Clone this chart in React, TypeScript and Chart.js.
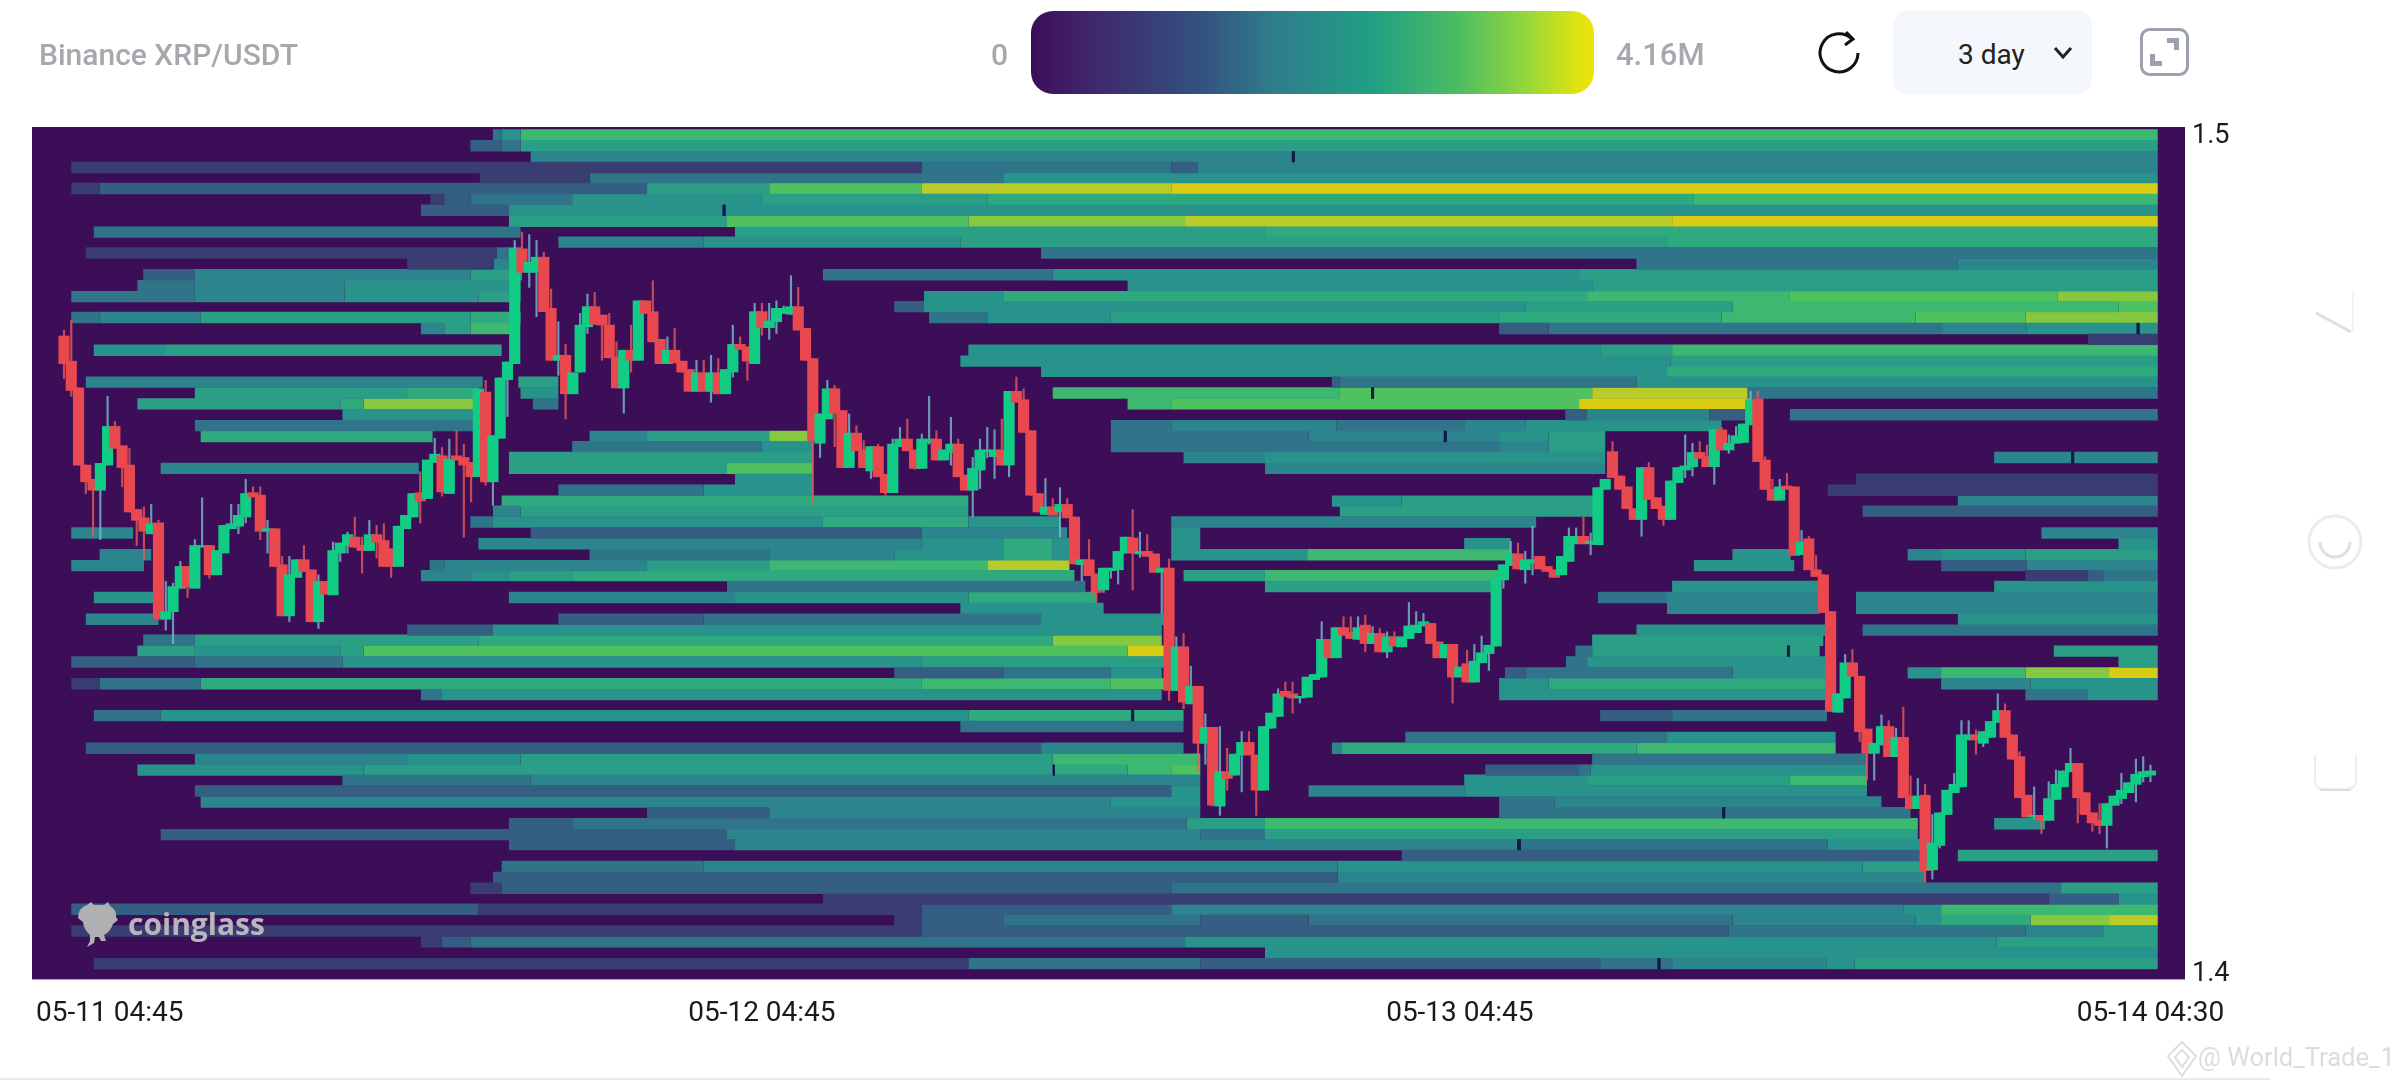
import { useEffect, useRef } from 'react'
import { Chart, registerables } from 'chart.js'

Chart.register(...registerables)

// x axis runs in 15 minute candle indexes, y axis in price
const xTickPositions = [6.3, 96, 192, 287]
const xTickLabels = ['05-11 04:45', '05-12 04:45', '05-13 04:45', '05-14 04:30']
const yTickValues = [1.4, 1.5]

const opens = [
  1.4759, 1.4729, 1.4697, 1.4605, 1.4588, 1.4575, 1.4605, 1.4651, 1.4628, 1.4605,
  1.4552, 1.4542, 1.4523, 1.4536, 1.4421, 1.443, 1.4458, 1.4484, 1.4458, 1.4507,
  1.4509, 1.4474, 1.45, 1.4529, 1.4532, 1.4543, 1.4572, 1.4569, 1.4526, 1.4529,
  1.4486, 1.4425, 1.4471, 1.4492, 1.448, 1.4418, 1.4466, 1.445, 1.45, 1.4509,
  1.4519, 1.4509, 1.4503, 1.4522, 1.4515, 1.4505, 1.4484, 1.4529, 1.4543, 1.4572,
  1.4565, 1.4608, 1.4616, 1.4571, 1.4616, 1.4614, 1.4608, 1.4591, 1.4692, 1.4585,
  1.4637, 1.4707, 1.4726, 1.4863, 1.4835, 1.4835, 1.4853, 1.4792, 1.473, 1.4736,
  1.469, 1.4716, 1.477, 1.4794, 1.4784, 1.4772, 1.4734, 1.4697, 1.4742, 1.473,
  1.4801, 1.4788, 1.4755, 1.4726, 1.4742, 1.4729, 1.4719, 1.4693, 1.4715, 1.4693,
  1.4715, 1.469, 1.4716, 1.4749, 1.4746, 1.4726, 1.4788, 1.4769, 1.4776, 1.4786,
  1.4785, 1.4794, 1.4768, 1.4732, 1.4631, 1.466, 1.4696, 1.467, 1.4602, 1.4643,
  1.4623, 1.4598, 1.4627, 1.4594, 1.4572, 1.4627, 1.4636, 1.4623, 1.4601, 1.4632,
  1.4636, 1.4611, 1.462, 1.463, 1.4593, 1.4575, 1.4599, 1.4621, 1.4615, 1.4623,
  1.4605, 1.4693, 1.4683, 1.4646, 1.4571, 1.4546, 1.4555, 1.4549, 1.4558, 1.4543,
  1.4486, 1.4492, 1.4475, 1.4456, 1.4479, 1.448, 1.45, 1.4518, 1.4499, 1.4502,
  1.4499, 1.4477, 1.4482, 1.4336, 1.4388, 1.432, 1.4341, 1.4273, 1.4292, 1.4198,
  1.4239, 1.4235, 1.4259, 1.4274, 1.4259, 1.4217, 1.4291, 1.4305, 1.4335, 1.4332,
  1.4327, 1.4328, 1.4349, 1.4352, 1.4397, 1.4375, 1.4411, 1.4405, 1.4397, 1.4414,
  1.4392, 1.4404, 1.4382, 1.44, 1.4388, 1.4398, 1.4405, 1.4413, 1.4416, 1.4394,
  1.4375, 1.4391, 1.4352, 1.4368, 1.4346, 1.4369, 1.438, 1.4389, 1.4468, 1.4485,
  1.4499, 1.448, 1.4488, 1.4496, 1.4484, 1.448, 1.4474, 1.449, 1.4511, 1.452,
  1.4511, 1.451, 1.4576, 1.4621, 1.4592, 1.4579, 1.4553, 1.454, 1.4602, 1.4566,
  1.4556, 1.454, 1.4584, 1.4599, 1.4603, 1.462, 1.4615, 1.4603, 1.4647, 1.4623,
  1.4631, 1.4632, 1.4653, 1.4684, 1.4611, 1.4576, 1.4563, 1.458, 1.4579, 1.4498,
  1.4517, 1.448, 1.4474, 1.443, 1.431, 1.4327, 1.4369, 1.4353, 1.429, 1.4261,
  1.4271, 1.4293, 1.4257, 1.428, 1.421, 1.4195, 1.4211, 1.4122, 1.4151, 1.4188,
  1.4214, 1.4221, 1.4277, 1.4283, 1.4273, 1.428, 1.4298, 1.4312, 1.4283, 1.4257,
  1.4211, 1.4185, 1.4187, 1.4181, 1.4206, 1.4221, 1.4239, 1.4249, 1.4214, 1.419,
  1.4181, 1.4175, 1.4199, 1.4207, 1.4214, 1.4224, 1.4233, 1.4235,
]
const highs = [
  1.4766, 1.4778, 1.4697, 1.4605, 1.4588, 1.4607, 1.4687, 1.4657, 1.4628, 1.4625,
  1.4552, 1.4555, 1.4558, 1.4539, 1.4466, 1.4464, 1.449, 1.4484, 1.4516, 1.4566,
  1.4509, 1.4503, 1.4533, 1.4558, 1.4558, 1.4588, 1.4579, 1.4579, 1.4539, 1.4529,
  1.4496, 1.4496, 1.4492, 1.4509, 1.448, 1.4474, 1.4466, 1.4513, 1.4512, 1.4525,
  1.4543, 1.4519, 1.4539, 1.4533, 1.4535, 1.4505, 1.4532, 1.4545, 1.4571, 1.4597,
  1.4611, 1.4637, 1.4626, 1.4636, 1.4646, 1.463, 1.4608, 1.4696, 1.4706, 1.464,
  1.4709, 1.4728, 1.4873, 1.4883, 1.488, 1.4873, 1.4859, 1.4815, 1.4776, 1.4749,
  1.4715, 1.4786, 1.4809, 1.4811, 1.4784, 1.4786, 1.4752, 1.4742, 1.4772, 1.4801,
  1.4801, 1.4825, 1.4755, 1.4758, 1.4768, 1.4729, 1.4719, 1.473, 1.473, 1.4736,
  1.4732, 1.4719, 1.4772, 1.4758, 1.4746, 1.4798, 1.4798, 1.4798, 1.4801, 1.4795,
  1.4831, 1.4817, 1.4768, 1.4732, 1.4666, 1.4706, 1.47, 1.467, 1.4666, 1.4652,
  1.4634, 1.4627, 1.463, 1.4594, 1.4636, 1.465, 1.466, 1.4623, 1.4642, 1.4687,
  1.4646, 1.4623, 1.4662, 1.4636, 1.4593, 1.4614, 1.4636, 1.465, 1.4647, 1.466,
  1.4693, 1.471, 1.4696, 1.4646, 1.4571, 1.4589, 1.4565, 1.4578, 1.4565, 1.4543,
  1.4492, 1.4516, 1.4475, 1.4482, 1.4482, 1.4502, 1.4519, 1.4552, 1.4525, 1.4522,
  1.4499, 1.4482, 1.4493, 1.44, 1.4404, 1.4365, 1.4341, 1.4308, 1.4292, 1.4293,
  1.4267, 1.426, 1.4287, 1.4287, 1.4259, 1.4293, 1.4309, 1.4338, 1.4346, 1.4346,
  1.4329, 1.4352, 1.4355, 1.4418, 1.4397, 1.4411, 1.4424, 1.4424, 1.4424, 1.4426,
  1.4412, 1.441, 1.4406, 1.4406, 1.44, 1.4441, 1.443, 1.4428, 1.4416, 1.4394,
  1.4391, 1.4391, 1.4364, 1.4384, 1.4391, 1.4401, 1.439, 1.447, 1.4486, 1.4514,
  1.4512, 1.4502, 1.4532, 1.4496, 1.4484, 1.448, 1.4496, 1.453, 1.453, 1.4543,
  1.4524, 1.4578, 1.4588, 1.4633, 1.4592, 1.4579, 1.4553, 1.4602, 1.4608, 1.4566,
  1.4556, 1.4586, 1.4602, 1.4641, 1.4631, 1.4633, 1.4629, 1.4647, 1.465, 1.4641,
  1.4651, 1.4654, 1.4693, 1.4693, 1.4615, 1.4588, 1.4588, 1.4595, 1.4579, 1.4527,
  1.452, 1.4497, 1.4474, 1.443, 1.4332, 1.4379, 1.4385, 1.4353, 1.429, 1.4273,
  1.4307, 1.43, 1.4291, 1.4316, 1.4234, 1.4231, 1.4224, 1.4188, 1.419, 1.4217,
  1.4237, 1.43, 1.43, 1.4289, 1.4287, 1.4299, 1.4332, 1.432, 1.4283, 1.4263,
  1.4211, 1.4221, 1.4187, 1.4227, 1.4241, 1.424, 1.4267, 1.4249, 1.4214, 1.419,
  1.4201, 1.4201, 1.421, 1.4237, 1.4226, 1.4254, 1.4257, 1.4247,
]
const lows = [
  1.4708, 1.4687, 1.4605, 1.4571, 1.452, 1.4516, 1.4605, 1.4625, 1.4579, 1.4549,
  1.4509, 1.4492, 1.4523, 1.4421, 1.4408, 1.4392, 1.4458, 1.4447, 1.4458, 1.4507,
  1.447, 1.4474, 1.45, 1.4529, 1.4523, 1.4536, 1.4567, 1.4516, 1.45, 1.4484,
  1.4425, 1.4418, 1.4471, 1.4478, 1.4418, 1.441, 1.4451, 1.445, 1.449, 1.45,
  1.4507, 1.4476, 1.4503, 1.4494, 1.4484, 1.4471, 1.4484, 1.4529, 1.4543, 1.4536,
  1.4565, 1.4608, 1.4568, 1.4571, 1.4611, 1.4519, 1.4561, 1.4591, 1.4581, 1.4557,
  1.4637, 1.4663, 1.4726, 1.4835, 1.4817, 1.4782, 1.4788, 1.473, 1.4712, 1.466,
  1.469, 1.4716, 1.4762, 1.4773, 1.473, 1.4733, 1.4697, 1.4667, 1.4716, 1.473,
  1.4786, 1.4752, 1.4726, 1.4726, 1.4727, 1.4716, 1.4693, 1.4693, 1.4693, 1.468,
  1.469, 1.469, 1.471, 1.4743, 1.4706, 1.4726, 1.476, 1.4755, 1.4762, 1.4786,
  1.4785, 1.4766, 1.473, 1.4559, 1.4614, 1.466, 1.4627, 1.4602, 1.4602, 1.4622,
  1.4602, 1.4589, 1.4591, 1.4569, 1.4572, 1.4627, 1.4622, 1.46, 1.4601, 1.463,
  1.4611, 1.4611, 1.4605, 1.4591, 1.4575, 1.4543, 1.4577, 1.4614, 1.4589, 1.4605,
  1.4591, 1.468, 1.4644, 1.4569, 1.4549, 1.4546, 1.4545, 1.4519, 1.4542, 1.4487,
  1.4467, 1.4473, 1.4441, 1.4453, 1.447, 1.4463, 1.45, 1.4456, 1.4495, 1.4496,
  1.4477, 1.4428, 1.4324, 1.4336, 1.4314, 1.432, 1.424, 1.4248, 1.4198, 1.4187,
  1.4217, 1.4235, 1.4215, 1.4259, 1.4187, 1.4217, 1.4291, 1.4305, 1.4329, 1.4309,
  1.4321, 1.4328, 1.4349, 1.4352, 1.4375, 1.4375, 1.4402, 1.4398, 1.4397, 1.4382,
  1.4392, 1.4382, 1.4375, 1.4389, 1.4388, 1.4398, 1.4405, 1.4413, 1.4392, 1.4375,
  1.4375, 1.4321, 1.4352, 1.4346, 1.4346, 1.4369, 1.436, 1.4389, 1.4458, 1.4485,
  1.4481, 1.4464, 1.4474, 1.4481, 1.4478, 1.4471, 1.4474, 1.449, 1.4511, 1.4511,
  1.4498, 1.451, 1.4576, 1.459, 1.4576, 1.4553, 1.454, 1.452, 1.4564, 1.4553,
  1.4533, 1.454, 1.4584, 1.459, 1.4592, 1.4613, 1.4603, 1.4582, 1.4623, 1.4619,
  1.4631, 1.4632, 1.4653, 1.4609, 1.4576, 1.4563, 1.4563, 1.4576, 1.4497, 1.4498,
  1.448, 1.4472, 1.4429, 1.4311, 1.431, 1.4327, 1.4353, 1.4275, 1.4229, 1.4229,
  1.4271, 1.4257, 1.4257, 1.4208, 1.4195, 1.4195, 1.4107, 1.4111, 1.4148, 1.4188,
  1.4214, 1.4221, 1.4277, 1.426, 1.4269, 1.428, 1.4298, 1.428, 1.4254, 1.4208,
  1.4185, 1.4183, 1.4165, 1.4181, 1.4206, 1.4221, 1.4239, 1.4178, 1.4188, 1.4168,
  1.4165, 1.4148, 1.4199, 1.4201, 1.4214, 1.4203, 1.4227, 1.4227,
]
const closes = [
  1.4726, 1.4694, 1.4605, 1.4585, 1.4575, 1.4607, 1.4651, 1.4625, 1.4602, 1.4549,
  1.4539, 1.4526, 1.4535, 1.4421, 1.443, 1.446, 1.4484, 1.446, 1.4509, 1.4509,
  1.4474, 1.4503, 1.4533, 1.4535, 1.4545, 1.4571, 1.4567, 1.4526, 1.4529, 1.4484,
  1.4425, 1.4474, 1.4492, 1.4478, 1.4418, 1.4466, 1.4451, 1.4503, 1.4512, 1.4522,
  1.4507, 1.4503, 1.4522, 1.4513, 1.4484, 1.4484, 1.4532, 1.4545, 1.4571, 1.4562,
  1.4611, 1.4618, 1.4573, 1.4612, 1.4611, 1.4605, 1.4591, 1.4696, 1.4585, 1.464,
  1.4709, 1.4728, 1.4863, 1.4835, 1.4847, 1.4853, 1.4788, 1.473, 1.4736, 1.469,
  1.4715, 1.4772, 1.4794, 1.4773, 1.4772, 1.4733, 1.4697, 1.4742, 1.473, 1.4801,
  1.4786, 1.4752, 1.4726, 1.4742, 1.4727, 1.4716, 1.4693, 1.4715, 1.4693, 1.4715,
  1.469, 1.4719, 1.4749, 1.4743, 1.4729, 1.4788, 1.4769, 1.4777, 1.4792, 1.4792,
  1.4794, 1.4766, 1.473, 1.4634, 1.4666, 1.4696, 1.4667, 1.4602, 1.4643, 1.4622,
  1.4602, 1.4627, 1.4591, 1.4572, 1.463, 1.4636, 1.4622, 1.4601, 1.4636, 1.4636,
  1.4611, 1.4623, 1.463, 1.4591, 1.4575, 1.4601, 1.4623, 1.4623, 1.4623, 1.4605,
  1.4693, 1.468, 1.4644, 1.4569, 1.4549, 1.4555, 1.4545, 1.4558, 1.4542, 1.4487,
  1.4492, 1.4473, 1.4453, 1.4482, 1.4482, 1.4502, 1.4519, 1.45, 1.4502, 1.4496,
  1.4477, 1.4482, 1.4336, 1.4388, 1.4322, 1.4341, 1.4273, 1.4292, 1.4199, 1.4239,
  1.4231, 1.426, 1.4274, 1.4259, 1.4217, 1.4293, 1.4309, 1.4332, 1.4329, 1.4327,
  1.4329, 1.4352, 1.4355, 1.4397, 1.4375, 1.4411, 1.4402, 1.4398, 1.4411, 1.4392,
  1.4404, 1.4382, 1.44, 1.4389, 1.44, 1.4413, 1.4414, 1.4418, 1.4392, 1.4375,
  1.4391, 1.4352, 1.4364, 1.4346, 1.4371, 1.4381, 1.439, 1.447, 1.4486, 1.4499,
  1.4481, 1.4492, 1.4492, 1.4481, 1.4478, 1.4471, 1.4496, 1.452, 1.452, 1.4511,
  1.4514, 1.4578, 1.4588, 1.459, 1.4576, 1.4553, 1.454, 1.4602, 1.4564, 1.4553,
  1.454, 1.4586, 1.4602, 1.4604, 1.462, 1.4613, 1.4603, 1.4647, 1.4623, 1.4631,
  1.464, 1.4654, 1.4683, 1.4609, 1.4576, 1.4563, 1.4579, 1.4576, 1.4497, 1.4513,
  1.448, 1.4472, 1.4429, 1.4311, 1.4332, 1.4369, 1.4353, 1.4287, 1.4261, 1.4273,
  1.4293, 1.4257, 1.428, 1.4208, 1.4195, 1.421, 1.4121, 1.4154, 1.419, 1.4217,
  1.4224, 1.4283, 1.4283, 1.4277, 1.4287, 1.4299, 1.4312, 1.428, 1.4254, 1.4208,
  1.4185, 1.4187, 1.4181, 1.4207, 1.4224, 1.424, 1.4249, 1.4208, 1.4188, 1.4178,
  1.4175, 1.4201, 1.421, 1.4217, 1.4226, 1.4236, 1.4239, 1.424,
]

// one price level per heatmap row, top to bottom
const rowPrices = [
  1.4999, 1.4986, 1.4973, 1.496, 1.4948, 1.4935, 1.4922, 1.4909, 1.4896, 1.4883,
  1.4871, 1.4858, 1.4845, 1.4832, 1.4819, 1.4806, 1.4794, 1.4781, 1.4768, 1.4755,
  1.4742, 1.4729, 1.4717, 1.4704, 1.4691, 1.4678, 1.4665, 1.4652, 1.4639, 1.4627,
  1.4614, 1.4601, 1.4588, 1.4575, 1.4562, 1.455, 1.4537, 1.4524, 1.4511, 1.4498,
  1.4485, 1.4473, 1.446, 1.4447, 1.4434, 1.4421, 1.4408, 1.4396, 1.4383, 1.437,
  1.4357, 1.4344, 1.4331, 1.4319, 1.4306, 1.4293, 1.428, 1.4267, 1.4254, 1.4241,
  1.4229, 1.4216, 1.4203, 1.419, 1.4177, 1.4164, 1.4152, 1.4139, 1.4126, 1.4113,
  1.41, 1.4087, 1.4075, 1.4062, 1.4049, 1.4036, 1.4023, 1.401,
]

// liquidation strength steps, 0 is the small dark tick seen on some rows
const levelColors = [
  '#0d1b4a', '#3a3d72', '#345f82', '#307489', '#2c848c', '#27938b', '#2a9f85',
  '#2faa7e', '#3db870', '#4fc25f', '#86c940', '#b9cb28', '#d9cd14',
]

// each row: start index, level, start index, level, ... last entry closes the row, -1 = empty
const heatRuns: number[][] = [
  [59, 3, 60.2, 5, 62.8, 8, 288, -1],
  [55.9, 2, 60.2, 3, 62.8, 6, 288, -1],
  [64.2, 4, 104.4, 4, 168.9, 0, 169.3, 4, 288, -1],
  [1, 1, 118, 3, 152.3, 2, 156, 4, 288, -1],
  [57.2, 1, 72.3, 3, 129.3, 5, 288, -1],
  [1, 1, 4.9, 2, 80.2, 6, 97, 9, 118, 11, 152.3, 12, 288, -1],
  [50.4, 1, 52.3, 2, 55.9, 3, 69.9, 5, 96, 6, 127, 7, 224.2, 8, 288, -1],
  [49.1, 2, 61.2, 5, 90.6, 0, 91, 5, 288, -1],
  [61.2, 6, 91.2, 9, 124.4, 10, 154.2, 11, 221.2, 12, 288, -1],
  [4.1, 3, 62.8, -1, 92.3, 6, 165.2, 7, 288, -1],
  [68, 4, 88, 5, 123.3, 6, 220.5, 7, 288, -1],
  [3, 1, 59.5, 3, 61, 5, 63, -1, 134.4, 3, 288, -1],
  [47.2, 1, 59.1, 4, 63, -1, 216.3, 3, 247.4, 3, 260.5, 4, 288, -1],
  [10.9, 2, 18, 4, 55.9, 6, 63, -1, 104.4, 3, 136, 5, 208.4, 6, 288, -1],
  [10.1, 3, 18, 4, 38.6, 5, 62.8, -1, 146.3, 5, 210.2, 6, 288, -1],
  [1, 3, 18, 4, 38.6, 5, 57, 6, 62.8, -1, 118.3, 5, 129.3, 7, 209.5, 8, 237.4, 9, 274.2, 10, 288, -1],
  [114.2, 2, 118.3, 5, 201, 6, 229.5, 8, 282.6, 9, 288, -1],
  [1, 3, 4.9, 4, 18.8, 6, 55.9, 7, 62.8, -1, 119, 3, 127, 5, 144, 6, 197.4, 7, 228, 8, 254.7, 9, 269.8, 10, 288, -1],
  [49.1, 4, 52.3, 6, 55.9, 8, 62, -1, 197.4, 2, 204.2, 3, 258.2, 4, 270, 5, 285.1, 0, 285.5, 5, 288, -1],
  [278.4, 1, 288, -1],
  [4.1, 5, 13.9, 6, 60.2, -1, 124.4, 5, 211.3, 6, 221.2, 8, 288, -1],
  [123.3, 5, 221, 6, 288, -1],
  [134.4, 5, 220.5, 7, 288, -1],
  [3, 4, 57.6, -1, 62.5, 6, 68, -1, 174.4, 2, 175.5, 3, 216.3, 5, 288, -1],
  [18, 6, 47.2, 7, 57, -1, 62.8, 5, 68, -1, 136, 8, 175.5, 9, 179.8, 0, 180.2, 9, 210.2, 11, 231.6, 3, 288, -1],
  [10.1, 6, 38, 7, 41.2, 10, 56.5, -1, 64.5, 3, 68, -1, 146.3, 8, 152.3, 9, 208.4, 12, 232, -1],
  [38.3, 5, 56.5, -1, 206.5, 2, 209.5, 4, 226.3, 2, 232, -1, 237.4, 3, 288, -1],
  [18, 3, 56.5, -1, 144, 3, 152.3, 4, 175, 3, 192.6, 4, 201, 5, 228, -1],
  [18.8, 7, 50.7, -1, 72.3, 4, 80.2, 6, 97, 10, 102.7, -1, 144, 3, 171.2, 4, 189.8, 0, 190.2, 4, 197.4, 5, 204.2, 6, 212, -1],
  [69.9, 3, 96, 5, 103, -1, 144, 3, 197.4, 4, 204.2, 6, 212, -1],
  [61.2, 6, 103, -1, 154, 4, 165.2, 5, 212, -1, 265.5, 4, 276.1, 0, 276.5, 4, 288, -1],
  [13.3, 4, 48.8, -1, 61.2, 6, 91.2, 9, 103, -1, 165.2, 4, 212, -1],
  [92.3, 5, 103, -1, 246.5, 1, 288, -1],
  [68, 3, 88, 5, 103, -1, 242.6, 1, 288, -1],
  [60.2, 7, 124.4, -1, 174.4, 5, 184, 6, 210.5, -1, 260.5, 4, 288, -1],
  [59, 4, 62.8, 6, 124.4, -1, 175.5, 6, 210.5, -1, 247.4, 2, 288, -1],
  [55.9, 3, 59, 5, 104.4, 7, 124.4, 5, 137, -1, 152.3, 4, 202.5, -1],
  [1, 4, 9.5, -1, 64.2, 2, 118, 4, 138, -1, 152.3, 5, 156.3, -1, 272, 4, 288, -1],
  [57, 4, 118, 5, 129.3, 7, 136, 5, 139, -1, 152.3, 5, 156.3, -1, 192.6, 5, 199, -1, 282.6, 5, 288, -1],
  [4.9, 4, 12, -1, 72.3, 3, 97, 4, 114.2, 5, 129.3, 7, 136, 5, 139, -1, 152.3, 5, 171, 8, 199, -1, 229.5, 5, 237.5, -1, 253.6, 4, 258.2, 5, 269.8, 6, 288, -1],
  [1, 4, 11, -1, 50.3, 3, 52.3, 4, 80.2, 6, 97, 8, 127, 11, 138.3, -1, 224.2, 5, 238, -1, 258.2, 2, 270, 4, 288, -1],
  [49.1, 4, 55.9, 5, 61.2, 6, 69.9, 7, 139, -1, 154, 6, 165.2, 8, 197.4, -1, 269.8, 1, 278.4, 2, 280.5, 3, 288, -1],
  [91.2, 3, 140.5, -1, 165.2, 6, 197, -1, 221.2, 5, 241.5, -1, 265.5, 5, 288, -1],
  [4.1, 5, 12.5, -1, 61.2, 4, 92.3, 5, 124.4, 7, 142, -1, 211, 3, 220.5, 4, 241.5, -1, 246.5, 4, 288, -1],
  [123.3, 5, 143, -1, 220.5, 4, 241.5, -1, 246.5, 4, 288, -1],
  [3, 4, 13, -1, 68, 2, 88, 3, 134.4, 5, 151.5, -1, 260.5, 5, 288, -1],
  [47.2, 2, 59, 5, 151, -1, 216.3, 5, 242.5, -1, 247.4, 3, 288, -1],
  [10.9, 3, 18, 6, 57, 7, 136, 10, 151, -1, 210.2, 6, 242, -1],
  [10.1, 6, 18, 5, 38, 6, 41.2, 9, 146.3, 12, 151.5, -1, 207.9, 3, 210.2, 6, 237, 0, 237.4, 6, 241.5, -1, 273.7, 6, 288, -1],
  [1, 2, 18, 3, 38.3, 5, 118, 6, 151.5, -1, 206.6, 3, 209.5, 5, 242.5, -1, 282.6, 6, 288, -1],
  [114.2, 2, 129.3, 3, 144, 5, 151, -1, 198.2, 2, 201, 3, 229.5, 5, 242.5, -1, 253.6, 5, 258.2, 8, 269.8, 10, 281.3, 12, 288, -1],
  [1, 1, 4.9, 3, 18.8, 7, 118, 8, 144, 9, 151.5, -1, 197.4, 5, 204.2, 7, 242.5, -1, 258.2, 4, 270.5, 5, 288, -1],
  [49.1, 3, 52, 5, 151, -1, 197.4, 5, 242.5, -1, 269.8, 3, 278.4, 5, 288, -1],
  [],
  [4.1, 3, 13.3, 5, 124.4, 7, 146.8, 0, 147.2, 7, 154, -1, 211.3, 2, 221.2, 3, 242.5, -1],
  [123.3, 3, 154, -1],
  [184.5, 3, 220.5, 5, 243.7, -1],
  [3, 2, 134.4, 4, 154, -1, 174.4, 4, 175.8, 7, 216.3, 8, 243.7, -1],
  [18, 4, 47.2, 5, 62.8, 6, 136, 8, 156.3, -1, 210.2, 3, 248, -1],
  [10.1, 5, 41.2, 6, 136, 0, 136.3, 7, 146.3, 8, 152.3, 9, 156.3, -1, 195.5, 2, 208.4, 3, 210, 5, 248, -1],
  [38.3, 3, 64.2, 4, 156.3, -1, 192.6, 5, 209.5, 6, 237.4, 8, 248, -1],
  [18, 2, 152.3, 5, 156.3, -1, 171.2, 4, 192.6, 5, 248, -1],
  [18.8, 4, 144, 5, 156.3, -1, 197.4, 3, 205, 4, 250, -1],
  [80.2, 2, 97, 4, 156.3, -1, 197.4, 3, 228.1, 0, 228.5, 3, 254, -1],
  [61.2, 2, 69.9, 3, 154.4, 6, 165.2, 8, 255, -1, 265.5, 5, 272.5, -1],
  [13.3, 2, 91.2, 4, 156.3, 3, 165.2, 6, 255, -1],
  [61.2, 2, 92.3, 4, 199.9, 0, 200.4, 3, 242.6, 5, 256, -1],
  [184, 2, 256, -1, 260.5, 6, 288, -1],
  [60.2, 3, 88, 4, 175.2, 5, 247.4, 6, 256, -1],
  [59, 2, 175.2, 4, 256, -1],
  [55.9, 1, 60.2, 2, 152.3, 3, 274.7, 6, 288, -1],
  [104.4, 1, 273, 2, 282.6, 5, 288, -1],
  [1, 2, 57, 1, 118, 2, 152.3, 4, 253, 5, 258.2, 8, 288, -1],
  [114.2, 1, 118, 2, 129.3, 3, 156.3, 2, 171.2, 3, 229.5, 4, 254.7, 5, 258.2, 7, 270.5, 10, 281.3, 11, 288, -1],
  [1, 1, 118, 2, 229, 3, 269.8, 4, 280.5, 6, 288, -1],
  [49.1, 1, 52, 2, 55.9, 3, 154.2, 5, 265.8, 6, 288, -1],
  [165.2, 5, 288, -1],
  [4.1, 1, 124.4, 3, 156.3, 2, 211.3, 3, 219.2, 0, 219.6, 3, 221.2, 4, 242.4, 5, 246.3, 6, 288, -1],
]

const BACKGROUND = '#3b0e57'
const UP = '#10cc85'
const DOWN = '#e9484e'
const UP_WICK = 'rgba(120, 190, 205, 0.8)'
const DOWN_WICK = 'rgba(233, 90, 90, 0.8)'

const plotBackground = {
  id: 'plotBackground',
  beforeDraw(chart: Chart) {
    const { ctx, chartArea } = chart
    ctx.save()
    ctx.fillStyle = BACKGROUND
    ctx.fillRect(chartArea.left, chartArea.top, chartArea.width, chartArea.height)
    ctx.fillStyle = '#b897c9'
    ctx.fillRect(chartArea.left, chartArea.bottom - 1, chartArea.width, 1)
    ctx.restore()
  }
}

function buildLevelPoints() {
  const points: { x: number; y: number | null }[][] = levelColors.map(() => [])
  heatRuns.forEach((run, row) => {
    for (let j = 0; j + 2 < run.length; j += 2) {
      const level = run[j + 1]
      if (level < 0) continue
      points[level].push({ x: run[j], y: rowPrices[row] }, { x: run[j + 2], y: rowPrices[row] }, { x: run[j + 2], y: null })
    }
  })
  return points
}

function Heatmap() {
  const chartRef = useRef<HTMLCanvasElement | null>(null)

  useEffect(() => {
    document.body.style.margin = '0'
    const ctx = chartRef.current?.getContext('2d')
    if (!ctx) return

    const levelPoints = buildLevelPoints()
    const heatDatasets = levelColors.map((color, i) => ({
      type: 'line' as const,
      data: levelPoints[i],
      borderColor: color,
      borderWidth: 11.4,
      borderCapStyle: 'butt' as const,
      pointRadius: 0,
      spanGaps: false,
      // the dark ticks sit over the colour runs
      order: i === 0 ? 3 : 4
    }))

    const chart = new Chart(ctx, {
      type: 'bar',
      data: {
        datasets: [
          ...heatDatasets,
          {
            type: 'bar' as const,
            data: opens.map((_, i) => ({ x: i, y: [lows[i], highs[i]] })),
            backgroundColor: opens.map((o, i) => (closes[i] >= o ? UP_WICK : DOWN_WICK)),
            barThickness: 1.5,
            grouped: false,
            order: 2
          },
          {
            type: 'bar' as const,
            data: opens.map((o, i) => ({ x: i, y: [o, closes[i]] })),
            backgroundColor: opens.map((o, i) => (closes[i] >= o ? UP : DOWN)),
            barThickness: 10.5,
            grouped: false,
            order: 1
          }
        ] as any
      },
      options: {
        responsive: false,
        animation: false,
        devicePixelRatio: 1,
        layout: { padding: { left: 32, top: 127, right: 0, bottom: 0 } },
        plugins: { legend: { display: false }, tooltip: { enabled: false } },
        scales: {
          x: {
            type: 'linear',
            min: -4.4,
            max: 291.75,
            offset: false,
            grid: { display: false, drawTicks: false },
            border: { display: false },
            afterFit: (scale: any) => {
              scale.height = 100
            },
            afterBuildTicks: (scale: any) => {
              scale.ticks = xTickPositions.map((value) => ({ value }))
            },
            ticks: {
              autoSkip: false,
              maxRotation: 0,
              padding: 17,
              color: '#1a1a1a',
              font: { family: 'Roboto', size: 28, weight: 400 as const },
              callback: (_value: any, index: number) => xTickLabels[index]
            }
          },
          y: {
            position: 'right',
            min: 1.39905,
            max: 1.50084,
            grid: { display: false, drawTicks: false },
            border: { display: false },
            afterFit: (scale: any) => {
              scale.width = 215
            },
            afterBuildTicks: (scale: any) => {
              scale.ticks = yTickValues.map((value) => ({ value }))
            },
            ticks: {
              autoSkip: false,
              padding: 7,
              labelOffset: 2.5,
              color: '#1a1a1a',
              font: { family: 'Roboto', size: 27, weight: 400 as const },
              callback: (value: any) => Number(value).toFixed(1)
            }
          }
        }
      } as any,
      plugins: [plotBackground]
    })

    return () => {
      chart.destroy()
    }
  }, [])

  return <canvas ref={chartRef} width={2400} height={1080} style={{ position: 'absolute', left: 0, top: 0 }} />
}

const grayText = { position: 'absolute', fontFamily: 'Roboto', fontWeight: 500, fontSize: 30, color: '#a6a8ad', lineHeight: '36px' } as const

export default function App() {
  return (
    <div style={{ position: 'relative', width: 2400, height: 1080, overflow: 'hidden', background: '#fff' }}>
      <Heatmap />
      <div style={{ ...grayText, left: 39, top: 37 }}>Binance XRP/USDT</div>
      <div style={{ ...grayText, left: 991, top: 37 }}>0</div>
      <div
        style={{
          position: 'absolute',
          left: 1031,
          top: 11,
          width: 563,
          height: 83,
          borderRadius: 22,
          background: 'linear-gradient(90deg, #3b0e57 0%, #41216a 8%, #33517f 30%, #2e7d8c 43%, #21a083 61%, #4cbd63 76%, #95d73a 88%, #dfe310 97%, #ece60a 100%)'
        }}
      />
      <div style={{ ...grayText, left: 1616, top: 37, fontSize: 31 }}>4.16M</div>

      <svg style={{ position: 'absolute', left: 1816, top: 28 }} width="48" height="48" viewBox="0 0 48 48" fill="none" stroke="#111" strokeWidth="3">
        <path d="M36 11 A19 19 0 1 0 42 25" />
        <path d="M30 4 L37 11 L29 17" />
      </svg>

      <div style={{ position: 'absolute', left: 1893, top: 11, width: 199, height: 83, borderRadius: 14, background: '#f4f7fb' }} />
      <div style={{ position: 'absolute', left: 1958, top: 37, fontFamily: 'Roboto', fontSize: 28, color: '#222', lineHeight: '36px' }}>3 day</div>
      <svg style={{ position: 'absolute', left: 2052, top: 44 }} width="22" height="18" viewBox="0 0 22 18" fill="none" stroke="#222" strokeWidth="3">
        <path d="M3 4 L11 13 L19 4" />
      </svg>

      <svg style={{ position: 'absolute', left: 2139, top: 27 }} width="52" height="50" viewBox="0 0 52 50">
        <rect x="2.5" y="2.5" width="46" height="45" rx="8" fill="none" stroke="#9aa0ac" strokeWidth="3" />
        <path d="M28 11 H40 V23 H35 V16 H28 Z" fill="#9aa0ac" />
        <path d="M11 27 H16 V34 H23 V39 H11 Z" fill="#9aa0ac" />
      </svg>

      {/* logo on the plot */}
      <svg style={{ position: 'absolute', left: 77, top: 900 }} width="42" height="48" viewBox="0 0 42 48" fill="#b0b0b2">
        <path d="M10 5 L14 2 L17 5 L27 5 L31 2 L33 6 Q40 10 39 17 L41 20 L36 24 Q33 32 27 35 L29 41 L24 41 L22 37 L18 37 L17 43 L10 47 L13 41 L13 35 Q7 30 6 22 L1 18 Q1 8 10 5 Z" />
      </svg>
      <div style={{ position: 'absolute', left: 128, top: 904, fontFamily: '"Open Sans"', fontWeight: 700, fontSize: 30, color: '#b7b6bd', lineHeight: '40px' }}>coinglass</div>

      {/* faint phone navigation buttons at the right edge */}
      <svg style={{ position: 'absolute', left: 2300, top: 285 }} width="70" height="520" fill="none">
        <path d="M53 5 V46" stroke="#f4f4f4" strokeWidth="2" />
        <path d="M16 28 L51 47" stroke="#dedede" strokeWidth="3" />
        <circle cx="35" cy="257" r="26" stroke="#ececec" strokeWidth="3" />
        <path d="M20 257 A15 15 0 0 0 50 257" stroke="#dfdfdf" strokeWidth="3" />
        <path d="M15 470 V495 Q15 504 24 504 H47 Q56 504 56 495 V470" stroke="#ededed" strokeWidth="2" />
        <path d="M20 505 H51" stroke="#dedede" strokeWidth="2" />
      </svg>

      <svg style={{ position: 'absolute', left: 2165, top: 1040 }} width="34" height="38" viewBox="0 0 34 38" fill="none" stroke="#dedede" strokeWidth="2">
        <path d="M17 2 L31 16 L17 36 L3 16 Z" />
        <path d="M17 10 L24 17 L17 27 L10 17 Z" />
      </svg>
      <div style={{ position: 'absolute', left: 2198, top: 1040, fontFamily: 'Roboto', fontSize: 25.5, color: '#dcdcdc', lineHeight: '34px', whiteSpace: 'nowrap' }}>@ World_Trade_1</div>
      <div style={{ position: 'absolute', left: 0, top: 1078, width: 2270, height: 2, background: '#e9e9e9' }} />
    </div>
  )
}
